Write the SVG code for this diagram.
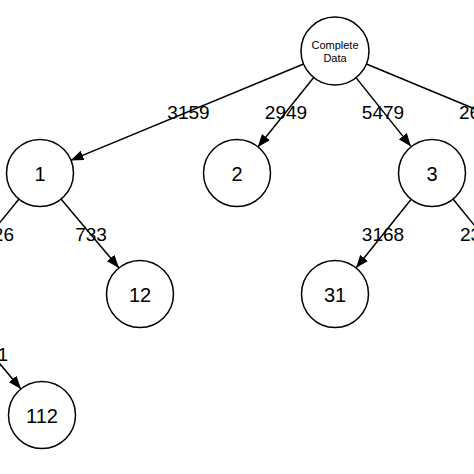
<svg xmlns="http://www.w3.org/2000/svg" width="474" height="474" viewBox="0 0 474 474">
<style>
.node circle{fill:#fff;stroke:#000;stroke-width:1.5}
.node text{font-family:"Liberation Sans",Arial,sans-serif;font-size:20px;text-anchor:middle;fill:#000}
.node text.small{font-size:11px}
.edges line{stroke:#000;stroke-width:1.5}
.lbl{font-family:"Liberation Sans",Arial,sans-serif;font-size:19px;fill:#000;text-anchor:middle}
</style>
<defs>
<marker id="arr" markerUnits="userSpaceOnUse" markerWidth="14" markerHeight="10" refX="13" refY="5" orient="auto">
<path d="M0,0 L13,5 L0,10 z" fill="#000"/>
</marker>
</defs>
<rect width="474" height="474" fill="#fff"/>
<g id="connectors" class="edges">
<line x1="303.6" y1="64" x2="70.5" y2="160.4" marker-end="url(#arr)"/>
<line x1="313.7" y1="77.5" x2="257.7" y2="147.3" marker-end="url(#arr)"/>
<line x1="356" y1="77.6" x2="411" y2="146.4" marker-end="url(#arr)"/>
<line x1="366.4" y1="64" x2="597.6" y2="160"/>
<line x1="19" y1="199" x2="-37" y2="268"/>
<line x1="61" y1="199" x2="119" y2="268" marker-end="url(#arr)"/>
<line x1="411" y1="199.5" x2="356" y2="268" marker-end="url(#arr)"/>
<line x1="453" y1="199" x2="509" y2="268"/>
<line x1="-37" y1="320" x2="21" y2="389" marker-end="url(#arr)"/>
<text class="lbl" x="188.5" y="118.5">3159</text>
<text class="lbl" x="286" y="118.5">2949</text>
<text class="lbl" x="383" y="118.5">5479</text>
<text class="lbl" x="459" y="118.5" style="text-anchor:start">26</text>
<text class="lbl" x="14" y="240.5" style="text-anchor:end">26</text>
<text class="lbl" x="91" y="240.5">733</text>
<text class="lbl" x="383" y="240.5">3168</text>
<text class="lbl" x="460" y="240.5" style="text-anchor:start">23</text>
<text class="lbl" x="8" y="360.5" style="text-anchor:end">1</text>
</g>
<g id="node-complete" class="node">
<circle cx="335" cy="51" r="34"/>
<text class="small" x="335" y="49">Complete</text>
<text class="small" x="335" y="62">Data</text>
</g>
<g id="node-1" class="node"><circle cx="40" cy="173" r="33.5"/><text x="40" y="180.5">1</text></g>
<g id="node-2" class="node"><circle cx="237" cy="173" r="33.5"/><text x="237" y="180.5">2</text></g>
<g id="node-3" class="node"><circle cx="432" cy="173" r="33.5"/><text x="432" y="180.5">3</text></g>
<g id="node-12" class="node"><circle cx="140" cy="294" r="33.5"/><text x="140" y="301.5">12</text></g>
<g id="node-31" class="node"><circle cx="335" cy="294" r="33.5"/><text x="335" y="301.5">31</text></g>
<g id="node-112" class="node"><circle cx="42" cy="415" r="33.5"/><text x="42" y="422.5">112</text></g>
</svg>
